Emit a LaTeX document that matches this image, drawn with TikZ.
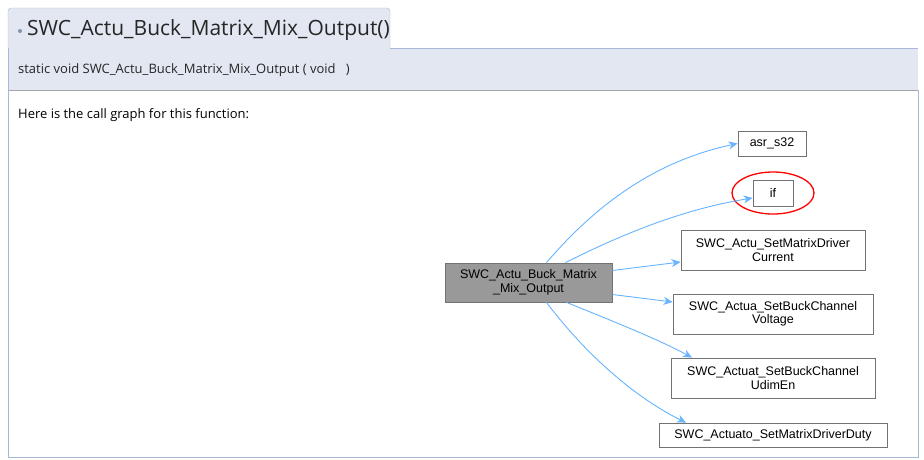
\documentclass[tikz,border=0pt]{standalone}
\usepackage{fontspec}
\setmainfont{Liberation Sans}
\newfontfamily\uifont{Open Sans}
\usetikzlibrary{arrows.meta}
\definecolor{hdr}{HTML}{E2E7F1}
\definecolor{bord}{HTML}{A8B8D8}
\definecolor{edgec}{HTML}{66B3FF}
\tikzset{
  fn/.style={draw=black!55, fill=white, rectangle, inner sep=0pt, align=center, font=\fontsize{12.5}{13.5}\selectfont, line width=0.8pt},
  call/.style={draw=edgec, line width=0.9pt, -{Stealth[length=9pt,width=8pt]}},
}
\begin{document}
\begin{tikzpicture}[x=1pt,y=-1pt]
\useasboundingbox (0,0) rectangle (924,459);
% header
\fill[hdr] (8,48) rectangle (918,90);
\draw[bord, fill=hdr, rounded corners=3pt] (8,48) -- (8,8) -- (390,8) -- (390,48);
\draw[bord] (390,48) -- (918,48);
\draw[black!35, line width=1pt] (8,90) -- (918,90);
\draw[bord] (8,48) -- (8,457) -- (918,457) -- (918,90);
\fill[bord!80!black] (20,31) circle (2pt);
\node[anchor=west, inner sep=0pt, font=\uifont\fontsize{21}{24}\selectfont, text=black!85] (title) at (27,30) {SWC\_Actu\_Buck\_Matrix\_Mix\_Output()};
\node[anchor=west, inner sep=0pt, font=\uifont\fontsize{13}{15}\selectfont, text=black!85] (sig) at (18,70) {static void SWC\_Actu\_Buck\_Matrix\_Mix\_Output ( void \ \ )};
\node[anchor=west, inner sep=0pt, font=\uifont\fontsize{13}{15}\selectfont] (intro) at (18,115) {Here is the call graph for this function:};
% nodes
\node[fn, fill=black!40, minimum width=167pt, minimum height=39pt] (m) at (528.5,282.5) {SWC\_Actu\_Buck\_Matrix\\\_Mix\_Output};
\node[fn, minimum width=68pt, minimum height=25pt] (a) at (772,143.5) {asr\_s32};
\node[fn, minimum width=40pt, minimum height=26pt] (i) at (773,193) {if};
\node[fn, minimum width=184pt, minimum height=40pt] (c) at (773,250) {SWC\_Actu\_SetMatrixDriver\\Current};
\node[fn, minimum width=200pt, minimum height=40pt] (v) at (773,314) {SWC\_Actua\_SetBuckChannel\\Voltage};
\node[fn, minimum width=204pt, minimum height=40pt] (u) at (773,378) {SWC\_Actuat\_SetBuckChannel\\UdimEn};
\node[fn, minimum width=228pt, minimum height=24pt] (d) at (773,435) {SWC\_Actuato\_SetMatrixDriverDuty};
\draw[red, line width=1.3pt] (i) ellipse (41pt and 21pt);
% edges
\draw[call] ([xshift=18pt]m.north) .. controls (600,200) and (660,160) .. (a.west);
\draw[call] ([xshift=37pt]m.north) .. controls (630,230) and (690,208) .. ([yshift=-5pt]i.west);
\draw[call] ([yshift=12pt]m.east) -- ([yshift=-12pt]c.west);
\draw[call] ([yshift=-12pt]m.east) -- ([yshift=12pt]v.west);
\draw[call] ([xshift=38pt]m.south) .. controls (610,320) and (660,340) .. ([xshift=-81pt]u.north);
\draw[call] ([xshift=18pt]m.south) .. controls (590,360) and (640,400) .. ([xshift=-87pt]d.north);
\end{tikzpicture}
\end{document}
